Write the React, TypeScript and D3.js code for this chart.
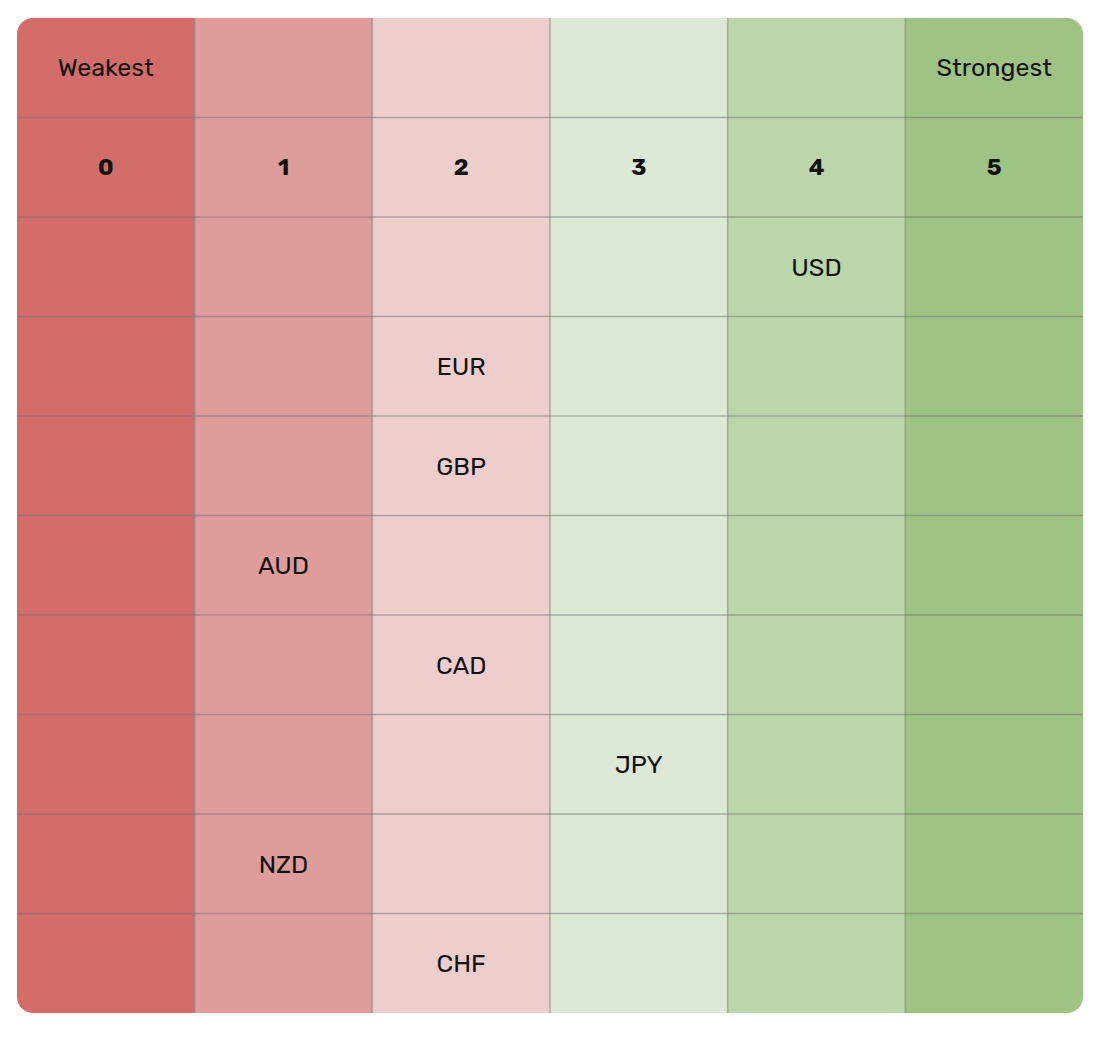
import React from "react";
import * as d3 from "d3";

const levels = [0, 1, 2, 3, 4, 5];
const levelHeaders = ["Weakest", "", "", "", "", "Strongest"];
const levelColors = ["#d26d6a", "#de9c9a", "#eecdcd", "#dde8d6", "#bbd6aa", "#9ec385"];
const currencies = ["USD", "EUR", "GBP", "AUD", "CAD", "JPY", "NZD", "CHF"];
const strengths = [4, 2, 2, 1, 2, 3, 1, 2];

const W = 1106;
const H = 1040;
const left = 17;
const right = 1083;
const top = 18;
const bottom = 1013;

export default function App() {
  const rowKeys = ["header", "levels", ...currencies];
  const x = d3.scaleBand<number>().domain(levels).range([left, right]);
  const y = d3.scaleBand<string>().domain(rowKeys).range([top, bottom]);
  const font = "Rubik, Inter, 'Noto Sans', sans-serif";
  const gridColor = "rgba(110,110,110,0.48)";

  return (
    <svg width={W} height={H} style={{ position: "absolute", left: 0, top: 0 }}>
      <defs>
        <clipPath id="roundClip">
          <rect x={left} y={top} width={right - left} height={bottom - top} rx={16} ry={16} />
        </clipPath>
      </defs>
      <g clipPath="url(#roundClip)">
        {levels.map((l) => (
          <rect key={l} x={x(l)} y={top} width={x.bandwidth()} height={bottom - top} fill={levelColors[l]} />
        ))}
        {levels.slice(1).map((l) => (
          <line key={"v" + l} x1={x(l)} x2={x(l)} y1={top} y2={bottom} stroke={gridColor} strokeWidth={1.5} />
        ))}
        {rowKeys.slice(1).map((r) => (
          <line key={"h" + r} x1={left} x2={right} y1={y(r)} y2={y(r)} stroke={gridColor} strokeWidth={1.5} />
        ))}
      </g>
      {levels.map((l) => (
        <text key={"hd" + l} x={x(l)! + x.bandwidth() / 2} y={y("header")! + y.bandwidth() / 2} textAnchor="middle"
          dominantBaseline="central" fontFamily={font} fontSize={25} fill="#111">
          {levelHeaders[l]}
        </text>
      ))}
      {levels.map((l) => (
        <text key={"lv" + l} x={x(l)! + x.bandwidth() / 2} y={y("levels")! + y.bandwidth() / 2} textAnchor="middle"
          dominantBaseline="central" fontFamily={font} fontSize={23} fontWeight={700} fill="#111">
          {l}
        </text>
      ))}
      {currencies.map((c, i) => (
        <text key={c} x={x(strengths[i])! + x.bandwidth() / 2} y={y(c)! + y.bandwidth() / 2 + 0.5} textAnchor="middle"
          dominantBaseline="central" fontFamily={font} fontSize={25} fill="#111">
          {c}
        </text>
      ))}
    </svg>
  );
}
